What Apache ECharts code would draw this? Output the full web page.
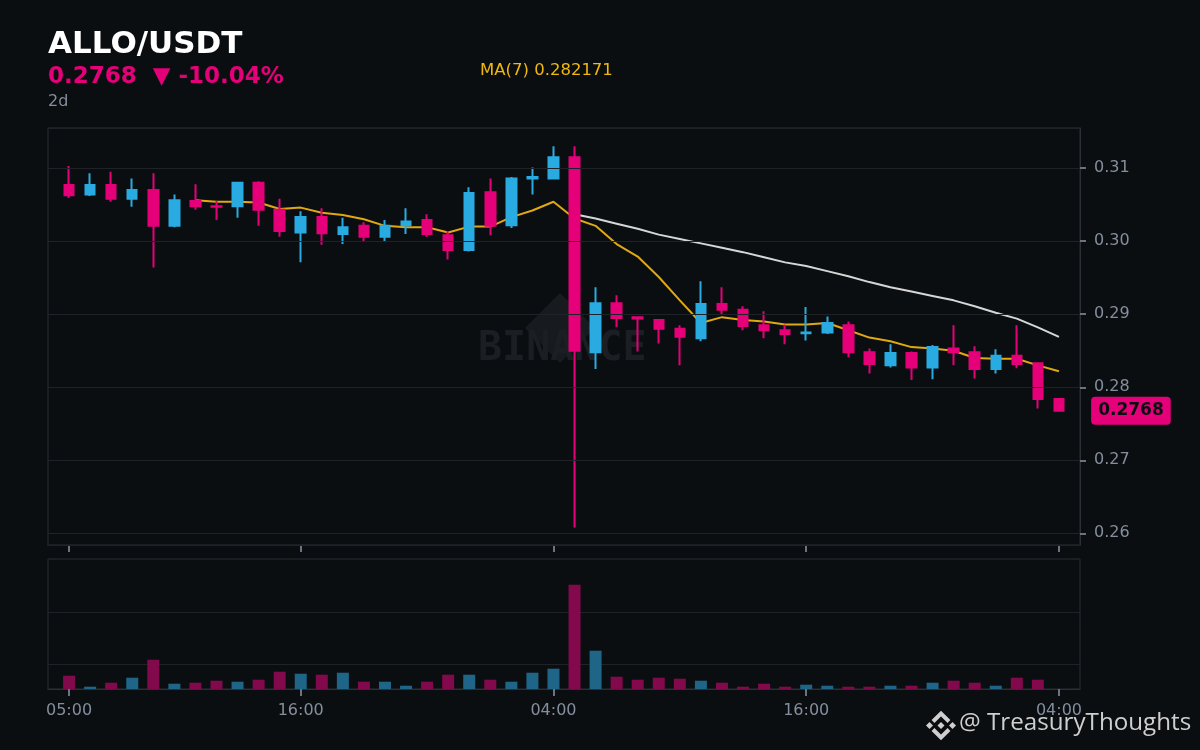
<!DOCTYPE html>
<html><head><meta charset="utf-8">
<script src="https://cdn.jsdelivr.net/npm/echarts@6/dist/echarts.min.js"></script>
<style>html,body{margin:0;padding:0;background:#0B0E11;}#chart{width:1200px;height:750px;}</style>
</head><body><div id="chart"></div>
<script>
const times = ['05:00','06:00','07:00','08:00','09:00','10:00','11:00','12:00','13:00','14:00','15:00','16:00',
  '17:00','18:00','19:00','20:00','21:00','22:00','23:00','00:00','01:00','02:00','03:00','04:00',
  '05:00','06:00','07:00','08:00','09:00','10:00','11:00','12:00','13:00','14:00','15:00','16:00',
  '17:00','18:00','19:00','20:00','21:00','22:00','23:00','00:00','01:00','02:00','03:00','04:00'];
const opens = [0.3077,0.3064,0.3077,0.3058,0.3070,0.3021,0.3055,0.3048,0.3048,0.3080,0.3043,0.3012,
  0.3033,0.3010,0.3021,0.3006,0.3022,0.3029,0.3008,0.2988,0.3067,0.3022,0.3086,0.3086,
  0.3115,0.2848,0.2915,0.2896,0.2892,0.2880,0.2867,0.2914,0.2906,0.2885,0.2878,0.2874,
  0.2875,0.2885,0.2848,0.2830,0.2847,0.2827,0.2853,0.2848,0.2825,0.2843,0.2833,0.2784];
const closes = [0.3063,0.3077,0.3058,0.3070,0.3021,0.3056,0.3048,0.3047,0.3080,0.3043,0.3014,0.3033,
  0.3011,0.3019,0.3006,0.3021,0.3027,0.3010,0.2988,0.3066,0.3021,0.3086,0.3088,0.3115,
  0.2850,0.2915,0.2895,0.2894,0.2880,0.2869,0.2914,0.2906,0.2884,0.2878,0.2873,0.2875,
  0.2888,0.2848,0.2832,0.2847,0.2827,0.2855,0.2848,0.2825,0.2843,0.2832,0.2784,0.2768];
const highs = [0.3103,0.3093,0.3095,0.3086,0.3093,0.3064,0.3078,0.3055,0.3081,0.3082,0.3058,0.3041,
  0.3045,0.3032,0.3026,0.3029,0.3045,0.3037,0.3014,0.3074,0.3086,0.3088,0.3101,0.3130,
  0.3130,0.2937,0.2926,0.2897,0.2893,0.2885,0.2945,0.2937,0.2911,0.2904,0.2886,0.2910,
  0.2897,0.2890,0.2853,0.2859,0.2849,0.2858,0.2885,0.2856,0.2852,0.2885,0.2834,0.2785];
const lows = [0.3059,0.3062,0.3054,0.3047,0.2964,0.3019,0.3043,0.3029,0.3032,0.3021,0.3006,0.2971,
  0.2995,0.2996,0.3000,0.3000,0.3010,0.3006,0.2975,0.2986,0.3008,0.3018,0.3064,0.3085,
  0.2608,0.2825,0.2882,0.2849,0.2860,0.2830,0.2863,0.2900,0.2878,0.2867,0.2859,0.2864,
  0.2873,0.2841,0.2819,0.2827,0.2810,0.2811,0.2830,0.2812,0.2819,0.2826,0.2771,0.2767];
// MA(7) from the 7th candle, MA(25) from the 25th candle
const ma7 = [0.3056,0.3054,0.3054,0.3053,0.3044,0.3046,0.3039,0.3036,0.3030,0.3021,0.3019,0.3019,
  0.3012,0.3020,0.3020,0.3033,0.3042,0.3054,0.3031,0.3021,0.2996,0.2979,0.2951,0.2919,
  0.2888,0.2896,0.2892,0.2890,0.2886,0.2886,0.2888,0.2878,0.2868,0.2863,0.2855,0.2853,
  0.2850,0.2840,0.2839,0.2839,0.2830,0.2822];
const ma25 = [0.3037,0.3031,0.3024,0.3017,0.3009,0.3003,0.2997,0.2991,0.2985,0.2978,0.2971,0.2966,
  0.2959,0.2952,0.2944,0.2937,0.2931,0.2925,0.2919,0.2911,0.2902,0.2894,0.2882,0.2869];
const volumes = [13.3,2.3,6.3,11.3,29.3,5.3,6.3,8.3,7.3,9.3,17.3,15.3,
  14.3,16.3,7.3,7.3,3.3,7.3,14.3,14.3,9.3,7.3,16.3,20.3,
  104.3,38.3,12.3,9.3,11.3,10.3,8.3,6.3,2.3,5.3,2.3,4.3,
  3.3,2.3,2.3,3.3,3.3,6.3,8.3,6.3,3.3,11.3,9.3,0];
const yTickLabels = ['0.26','0.27','0.28','0.29','0.30','0.31'];
const volumeGuides = [25, 77];
const titleText = 'ALLO/USDT';
const priceText = '0.2768  \u25BC -10.04%';
const intervalText = '2d';
const maText = 'MA(7) 0.282171';

const UP = '#29ABE2', DOWN = '#E5007A';
const UP_V = '#1E6587', DOWN_V = '#82094C';
const FONT = 'DejaVu Sans';

const cats = [''].concat(times, ['']);
const pad = (arr, lead) => ['-'].concat(new Array(lead).fill('-'), arr, ['-']);
const candleData = pad(opens.map((o, i) => [o, closes[i], lows[i], highs[i]]), 0);
const volData = pad(volumes.map((v, i) => ({
  value: v, itemStyle: {color: closes[i] >= opens[i] ? UP_V : DOWN_V}
})), 0);
const ma7Data = pad(ma7, times.length - ma7.length);
const ma25Data = pad(ma25, times.length - ma25.length);
const showTime = (idx, val) => idx === 1 || val === '16:00' || val === '04:00';
const lastClose = closes[closes.length - 1];
const lastIndex = times.length; // index in padded category list

const chart = echarts.init(document.getElementById('chart'), null, {renderer: 'canvas'});
chart.setOption({
  backgroundColor: '#0B0E11',
  animation: false,
  textStyle: {fontFamily: FONT},
  title: [
    {text: titleText, left: 48, top: 29, padding: 0,
     textStyle: {color: '#FFFFFF', fontSize: 31, fontWeight: 'bold', fontFamily: FONT}},
    {text: priceText, left: 48, top: 66, padding: 0,
     textStyle: {color: DOWN, fontSize: 23, fontWeight: 'bold', fontFamily: FONT}},
    {text: intervalText, left: 48, top: 94, padding: 0,
     textStyle: {color: '#848E9C', fontSize: 16, fontWeight: 'normal', fontFamily: FONT}},
    {text: maText, left: 480, top: 62, padding: 0,
     textStyle: {color: '#F0B90B', fontSize: 16.5, fontWeight: 'normal', fontFamily: FONT}}
  ],
  graphic: [
    {type: 'polygon', z: 0, silent: true,
     shape: {points: [[560, 293], [595, 328], [560, 363], [525, 328]]},
     style: {fill: '#171A1F'}},
    {type: 'text', z: 0, silent: true, left: 478, top: 330,
     style: {text: 'BINANCE', fill: '#1B1E23', font: 'bold 40px "DejaVu Sans Mono"'}},
    {type: 'group', left: 926, top: 711, silent: true, children: [
      {type: 'polyline', shape: {points: [[7, 10], [15, 2], [23, 10]]},
       style: {stroke: '#CFCFCF', lineWidth: 4, fill: null}},
      {type: 'polyline', shape: {points: [[7, 18], [15, 26], [23, 18]]},
       style: {stroke: '#CFCFCF', lineWidth: 4, fill: null}},
      {type: 'polygon', shape: {points: [[15, 10.5], [18.5, 14], [15, 17.5], [11.5, 14]]}, style: {fill: '#CFCFCF'}},
      {type: 'polygon', shape: {points: [[3.5, 10.5], [7, 14], [3.5, 17.5], [0, 14]]}, style: {fill: '#CFCFCF'}},
      {type: 'polygon', shape: {points: [[26.5, 10.5], [30, 14], [26.5, 17.5], [23, 14]]}, style: {fill: '#CFCFCF'}}
    ]},
    {type: 'text', left: 959, top: 711, silent: true,
     style: {text: '@ TreasuryThoughts', fill: '#CFCFCF', font: '24.2px "Open Sans"'}}
  ],
  grid: [
    {left: 48, right: 120, top: 128, height: 417, show: true, borderColor: '#2B2F36', borderWidth: 1, backgroundColor: 'transparent'},
    {left: 48, right: 120, top: 559, height: 130, show: true, borderColor: '#2B2F36', borderWidth: 1, backgroundColor: 'transparent'}
  ],
  xAxis: [
    {type: 'category', gridIndex: 0, data: cats, boundaryGap: false,
     axisLine: {show: true, lineStyle: {color: '#2B2F36'}},
     axisTick: {show: true, interval: showTime, length: 7, lineStyle: {color: '#6B7280', width: 2}},
     axisLabel: {show: false}, splitLine: {show: false}},
    {type: 'category', gridIndex: 1, data: cats, boundaryGap: false,
     axisLine: {show: true, lineStyle: {color: '#2B2F36'}},
     axisTick: {show: true, interval: showTime, length: 7, lineStyle: {color: '#6B7280', width: 2}},
     axisLabel: {show: true, interval: showTime, color: '#848E9C', fontSize: 16, margin: 14, fontFamily: FONT},
     splitLine: {show: false}}
  ],
  yAxis: [
    {type: 'value', gridIndex: 0, position: 'right', scale: true, min: 0.2584, max: 0.3155, z: 3,
     axisLine: {show: true, lineStyle: {color: '#2B2F36'}},
     axisTick: {show: true, length: 6, lineStyle: {color: '#6B7280', width: 2}},
     axisLabel: {color: '#848E9C', fontSize: 16, margin: 14, fontFamily: FONT,
       showMinLabel: false, showMaxLabel: false,
       formatter: v => { const s = v.toFixed(2); return yTickLabels.indexOf(s) >= 0 ? s : ''; }},
     splitLine: {show: true, lineStyle: {color: '#1F2328', width: 1}}},
    {type: 'value', gridIndex: 1, min: 0, max: 130,
     axisLine: {show: false}, axisTick: {show: false}, axisLabel: {show: false}, splitLine: {show: false}}
  ],
  series: [
    {type: 'candlestick', xAxisIndex: 0, yAxisIndex: 0, data: candleData, barWidth: 10, z: 2,
     itemStyle: {color: UP, color0: DOWN, borderColor: UP, borderColor0: DOWN, borderWidth: 2},
     markPoint: {
       silent: true, z: 6, symbol: 'rect', symbolSize: [78, 28], symbolOffset: [72, 0],
       itemStyle: {color: 'rgba(0,0,0,0)', borderWidth: 0},
       emphasis: {disabled: true},
       label: {show: true, position: 'inside',
         formatter: () => String(lastClose),
         backgroundColor: DOWN, borderRadius: 4, padding: [6, 7, 5, 7],
         color: '#0B0E11', fontWeight: 'bold', fontSize: 17, fontFamily: FONT},
       data: [{coord: [lastIndex, lastClose]}]
     }},
    {type: 'line', name: 'MA7', xAxisIndex: 0, yAxisIndex: 0, data: ma7Data, showSymbol: false, z: 2,
     lineStyle: {color: '#E0A812', width: 2}, itemStyle: {color: '#E0A812'}},
    {type: 'line', name: 'MA25', xAxisIndex: 0, yAxisIndex: 0, data: ma25Data, showSymbol: false, z: 2,
     lineStyle: {color: '#D6D6D6', width: 2}, itemStyle: {color: '#D6D6D6'}},
    {type: 'bar', xAxisIndex: 1, yAxisIndex: 1, data: volData, barWidth: 12, z: 2,
     markLine: {
       silent: true, symbol: ['none', 'none'], z: 1, label: {show: false},
       lineStyle: {color: '#1F2328', width: 1, type: 'solid'},
       data: volumeGuides.map(v => ({yAxis: v}))
     }}
  ]
});
</script>
</body></html>
